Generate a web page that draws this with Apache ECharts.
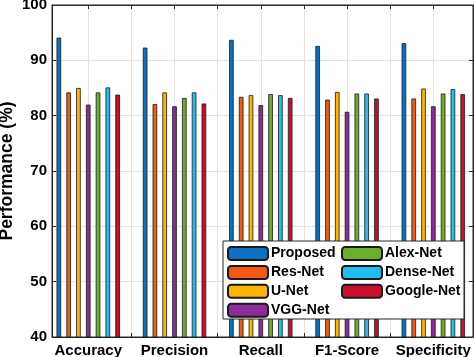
<!DOCTYPE html>
<html><head><meta charset="utf-8">
<script src="https://cdn.jsdelivr.net/npm/echarts@6/dist/echarts.min.js"></script>
<style>html,body{margin:0;padding:0;background:#fff}#c{width:474px;height:357px}</style>
</head><body><div id="c"></div>
<script>
const categories = ['Accuracy', 'Precision', 'Recall', 'F1-Score', 'Specificity'];
const seriesNames = ['Proposed', 'Res-Net', 'U-Net', 'VGG-Net', 'Alex-Net', 'Dense-Net', 'Google-Net'];
const proposed  = [94.1, 92.3, 93.7, 92.6, 93.1];
const resNet    = [84.2, 82.1, 83.4, 82.9, 83.1];
const uNet      = [85.0, 84.2, 83.7, 84.3, 84.9];
const vggNet    = [82.0, 81.7, 81.9, 80.7, 81.7];
const alexNet   = [84.2, 83.2, 83.9, 84.0, 84.0];
const denseNet  = [85.1, 84.2, 83.7, 84.0, 84.8];
const googleNet = [83.8, 82.2, 83.2, 83.1, 83.9];
const yTicks = [40, 50, 60, 70, 80, 90, 100];

const allValues = [proposed, resNet, uNet, vggNet, alexNet, denseNet, googleNet];
const colors = ['#0a72c0', '#f05a14', '#ffb400', '#8c2c96', '#6aae2a', '#20bff0', '#c8102e'];
const catPos = categories.map((c, i) => i + 1);
const tickPos = [1, 1.5, 2, 2.5, 3, 3.5, 4, 4.5, 5];
const FONT = 'Liberation Sans, Arial, Helvetica, sans-serif';
const axisColor = '#262626';
const gridColor = '#e3e3e3';

const series = seriesNames.map((name, s) => ({
  name, type: 'bar',
  xAxisIndex: 0, yAxisIndex: 0,
  data: allValues[s].map((v, i) => [catPos[i], v]),
  barWidth: 4.6, barGap: '113%',
  itemStyle: { color: colors[s], borderColor: '#1a1a1a', borderWidth: 0.8 },
  emphasis: { disabled: true },
  z: 3
}));

const legendBase = {
  orient: 'vertical', top: 242,
  itemWidth: 40, itemHeight: 13, itemGap: 3.9, padding: [4, 4, 4, 5], z: 200,
  selectedMode: false,
  textStyle: { color: '#000', fontSize: 14, lineHeight: 13, fontWeight: 'bold', fontFamily: FONT, padding: [0, 0, 0, -2] }
};

const chart = echarts.init(document.getElementById('c'), null, { renderer: 'canvas' });
chart.setOption({
  animation: false,
  textStyle: { fontFamily: FONT },
  grid: { left: 52, right: 1, top: 5, bottom: 20, containLabel: false, outerBoundsMode: 'none',
          show: true, borderColor: axisColor, borderWidth: 1, backgroundColor: '#fff' },
  xAxis: [{
    type: 'value', position: 'bottom', min: 0.58, max: 5.46,
    axisLine: { show: true, onZero: false, lineStyle: { color: axisColor, width: 1 } },
    axisTick: { show: true, inside: true, length: 4, customValues: tickPos, lineStyle: { color: axisColor } },
    axisLabel: { customValues: catPos, formatter: v => categories[Math.round(v) - 1] || '',
                 color: '#000', fontSize: 15, fontWeight: 'bold', fontFamily: FONT, margin: 6 },
    splitLine: { show: true, lineStyle: { color: gridColor, width: 1 } }
  }, {
    type: 'value', position: 'top', min: 0.58, max: 5.46,
    axisLine: { show: true, onZero: false, lineStyle: { color: axisColor, width: 1 } },
    axisTick: { show: true, inside: true, length: 4, customValues: tickPos, lineStyle: { color: axisColor } },
    axisLabel: { show: false },
    splitLine: { show: false }
  }],
  yAxis: [{
    type: 'value', min: 40, max: 100, interval: 10,
    name: 'Performance (%)', nameLocation: 'middle', nameGap: 36, nameRotate: 90, nameMoveOverlap: false,
    nameTextStyle: { color: '#000', fontSize: 17.5, fontWeight: 'bold', fontFamily: FONT },
    axisLine: { show: true, lineStyle: { color: axisColor, width: 1 } },
    axisTick: { show: true, inside: true, length: 4, lineStyle: { color: axisColor } },
    axisLabel: { color: '#000', fontSize: 15, fontWeight: 'bold', fontFamily: FONT, margin: 5,
                 formatter: v => yTicks.includes(v) ? String(v) : '' },
    splitLine: { show: true, lineStyle: { color: gridColor, width: 1 } }
  }, {
    type: 'value', min: 40, max: 100, interval: 10, position: 'right',
    axisLine: { show: true, lineStyle: { color: axisColor, width: 1 } },
    axisTick: { show: true, inside: true, length: 4, lineStyle: { color: axisColor } },
    axisLabel: { show: false },
    splitLine: { show: false }
  }],
  graphic: [{
    type: 'rect', z: 150, silent: true,
    shape: { x: 223, y: 241, width: 241, height: 78 },
    style: { fill: '#fff', stroke: '#262626', lineWidth: 1 }
  }],
  legend: [
    Object.assign({}, legendBase, { data: seriesNames.slice(0, 4), left: 222 }),
    Object.assign({}, legendBase, { data: seriesNames.slice(4), left: 336 })
  ],
  series
});
</script></body></html>
